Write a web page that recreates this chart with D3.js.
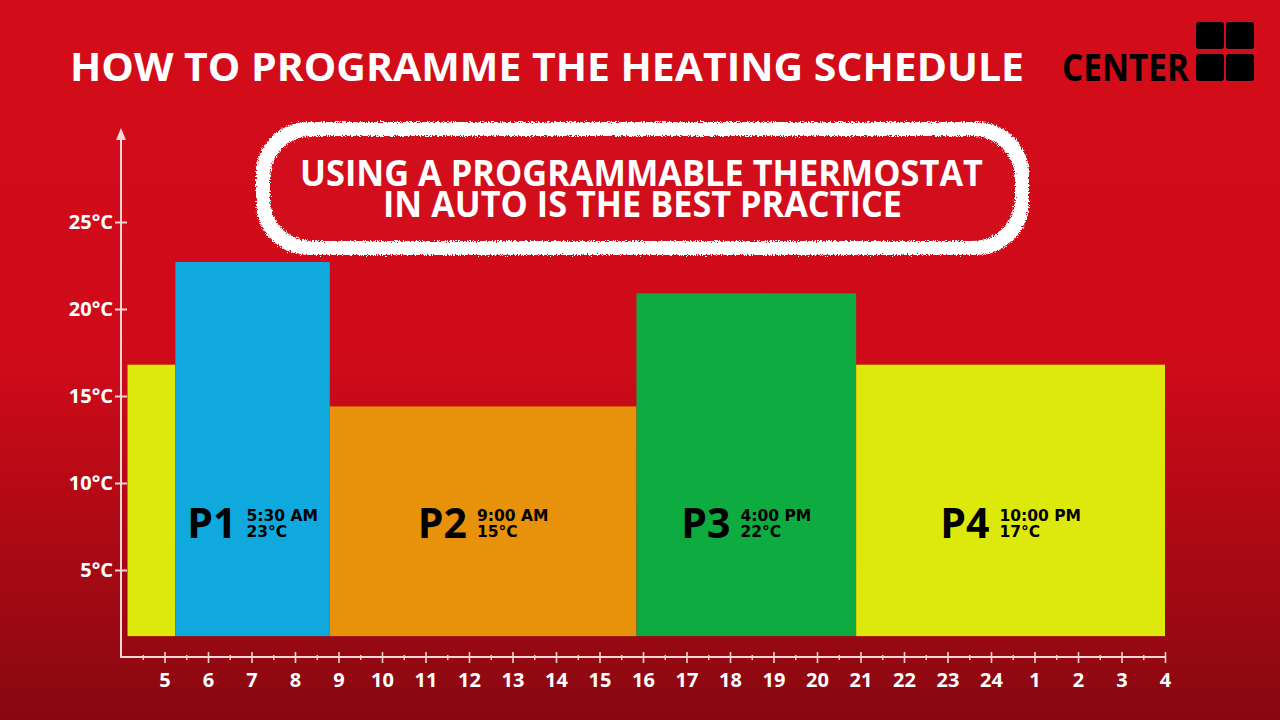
<!DOCTYPE html>
<html><head><meta charset="utf-8">
<script src="https://cdn.jsdelivr.net/npm/d3@7"></script>
<style>html,body{margin:0;padding:0;background:#c00;overflow:hidden} svg{display:block}</style>
</head><body><svg id="c" width="1280" height="720"></svg>
<script>
// ---- data ----
const titleText = "HOW TO PROGRAMME THE HEATING SCHEDULE";
const boxLines = ["USING A PROGRAMMABLE THERMOSTAT", "IN AUTO IS THE BEST PRACTICE"];
const brandText = "CENTER";
const hourTicks = [5,6,7,8,9,10,11,12,13,14,15,16,17,18,19,20,21,22,23,24,25,26,27,28];
const hourLabels = ["5","6","7","8","9","10","11","12","13","14","15","16","17","18","19","20","21","22","23","24","1","2","3","4"];
const tempTicks = [5, 10, 15, 20, 25];
const periodStart = [4.15, 5.25, 8.8, 15.85, 20.9];
const periodEnd   = [5.25, 8.8, 15.85, 20.9, 28];
const periodTemp  = [16.8, 22.7, 14.4, 20.9, 16.8];
const periodName  = ["", "P1", "P2", "P3", "P4"];
const periodTime  = ["", "5:30 AM", "9:00 AM", "4:00 PM", "10:00 PM"];
const periodSet   = ["", "23°C", "15°C", "22°C", "17°C"];
const baseTemp = 1.2;

// ---- styles ----
const barColors = ["#dde90b", "#0fa9de", "#e8920b", "#0dab40", "#dde90b"];
const axisColor = "#f3d6d6";
const FONT = "'Open Sans', 'DejaVu Sans', sans-serif";
const SMALL = "'DejaVu Sans', 'Open Sans', sans-serif";

const svg = d3.select("#c");
const defs = svg.append("defs");
const g1 = defs.append("linearGradient").attr("id","bg").attr("x1",0).attr("y1",0).attr("x2",0).attr("y2",1);
g1.append("stop").attr("offset","0").attr("stop-color","#d30c1a");
g1.append("stop").attr("offset","0.5").attr("stop-color","#cf0b19");
g1.append("stop").attr("offset","1").attr("stop-color","#880810");
const f = defs.append("filter").attr("id","rough").attr("x","-5%").attr("y","-20%").attr("width","110%").attr("height","140%");
f.append("feTurbulence").attr("type","fractalNoise").attr("baseFrequency","0.8").attr("numOctaves",2).attr("seed",3).attr("result","n");
f.append("feDisplacementMap").attr("in","SourceGraphic").attr("in2","n").attr("scale",6).attr("xChannelSelector","R").attr("yChannelSelector","G");

svg.append("rect").attr("width",1280).attr("height",720).attr("fill","url(#bg)");

// title
svg.append("text").attr("x",70).attr("y",81).text(titleText)
  .attr("font-family",FONT).attr("font-weight",700).attr("font-size",40).attr("fill","#fff")
  .attr("textLength",954).attr("lengthAdjust","spacingAndGlyphs");

// logo
svg.append("text").attr("x",1062).attr("y",81).text(brandText)
  .attr("font-family",FONT).attr("font-weight",700).attr("font-size",38).attr("fill","#000")
  .attr("textLength",127).attr("lengthAdjust","spacingAndGlyphs");
const sq = [[1196,22],[1226,22],[1196,54],[1226,54]];
svg.selectAll("rect.sq").data(sq).enter().append("rect").attr("class","sq")
  .attr("x",d=>d[0]).attr("y",d=>d[1]).attr("width",28).attr("height",27).attr("rx",3).attr("fill","#000");

// rough box
svg.append("rect").attr("x",256).attr("y",122).attr("width",773).attr("height",133).attr("rx",52)
  .attr("fill","#fff").attr("filter","url(#rough)");
svg.append("rect").attr("x",270).attr("y",136).attr("width",745).attr("height",105).attr("rx",42)
  .attr("fill","#d20c1a").attr("filter","url(#rough)");
const bt = svg.append("text").attr("font-family",FONT).attr("font-weight",700).attr("font-size",36).attr("fill","#fff");
bt.append("tspan").attr("x",300).attr("y",186).text(boxLines[0])
  .attr("textLength",683).attr("lengthAdjust","spacingAndGlyphs");
bt.append("tspan").attr("x",383).attr("y",217).text(boxLines[1])
  .attr("textLength",519).attr("lengthAdjust","spacingAndGlyphs");

// scales
const x = d3.scaleLinear().domain([4, 28]).range([121, 1165]);
const y = d3.scaleLinear().domain([0, 25]).range([657, 222]);

// bars
const periods = periodStart.map((s,i)=>({s, e: periodEnd[i], t: periodTemp[i], i}));
svg.selectAll("rect.bar").data(periods).enter().append("rect").attr("class","bar")
  .attr("x",d=>x(d.s)).attr("width",d=>x(d.e)-x(d.s))
  .attr("y",d=>y(d.t)).attr("height",d=>y(baseTemp)-y(d.t))
  .attr("fill",d=>barColors[d.i]);

// labels
periods.filter(d=>periodName[d.i]).forEach(d=>{
  const cx = (x(d.s)+x(d.e))/2;
  const g = svg.append("g");
  const big = g.append("text").text(periodName[d.i]).attr("y",538)
    .attr("font-family",FONT).attr("font-weight",700).attr("font-size",41).attr("fill","#000");
  const sm = g.append("text").attr("font-family",SMALL).attr("font-weight",700).attr("font-size",15.5).attr("fill","#000");
  const s1 = sm.append("tspan").text(periodTime[d.i]).attr("y",521);
  const s2 = sm.append("tspan").text(periodSet[d.i]).attr("y",537);
  const wb = big.node().getComputedTextLength();
  const ws = Math.max(s1.node().getComputedTextLength(), s2.node().getComputedTextLength());
  const gap = 10;
  const x0 = cx - (wb+gap+ws)/2;
  big.attr("x",x0); s1.attr("x",x0+wb+gap); s2.attr("x",x0+wb+gap);
});

// y axis
const ya = svg.append("g").attr("transform","translate(121,0)")
  .call(d3.axisLeft(y).tickValues(tempTicks).tickFormat(d=>d+"°C").tickSize(6).tickPadding(2));
ya.select(".domain").remove();
ya.selectAll(".tick line").attr("x1",-6).attr("x2",6).attr("stroke",axisColor).attr("stroke-width",2);
ya.selectAll(".tick text").attr("font-family",FONT).attr("font-weight",700).attr("font-size",20).attr("fill","#fff");

// x axis
const xa = svg.append("g").attr("transform","translate(0,657)")
  .call(d3.axisBottom(x).tickValues(hourTicks).tickFormat((d,i)=>hourLabels[i]).tickSize(6).tickPadding(10));
xa.select(".domain").remove();
xa.selectAll(".tick line").attr("y1",-5).attr("y2",6).attr("stroke",axisColor).attr("stroke-width",1.6);
xa.selectAll(".tick text").attr("font-family",FONT).attr("font-weight",700).attr("font-size",20).attr("fill","#fff");
const minor = hourTicks.map(h=>h-0.5);
const xm = svg.append("g").attr("transform","translate(0,657)")
  .call(d3.axisBottom(x).tickValues(minor).tickFormat("").tickSize(3));
xm.select(".domain").remove();
xm.selectAll(".tick line").attr("y1",-2).attr("y2",3).attr("stroke",axisColor).attr("stroke-width",1.4);

// axis lines
svg.append("path").attr("d",`M121,140 V657 H${x(28)}`).attr("fill","none").attr("stroke",axisColor).attr("stroke-width",2);
svg.append("path").attr("d","M121,128 L116,140 L126,140 Z").attr("fill",axisColor);
</script></body></html>
